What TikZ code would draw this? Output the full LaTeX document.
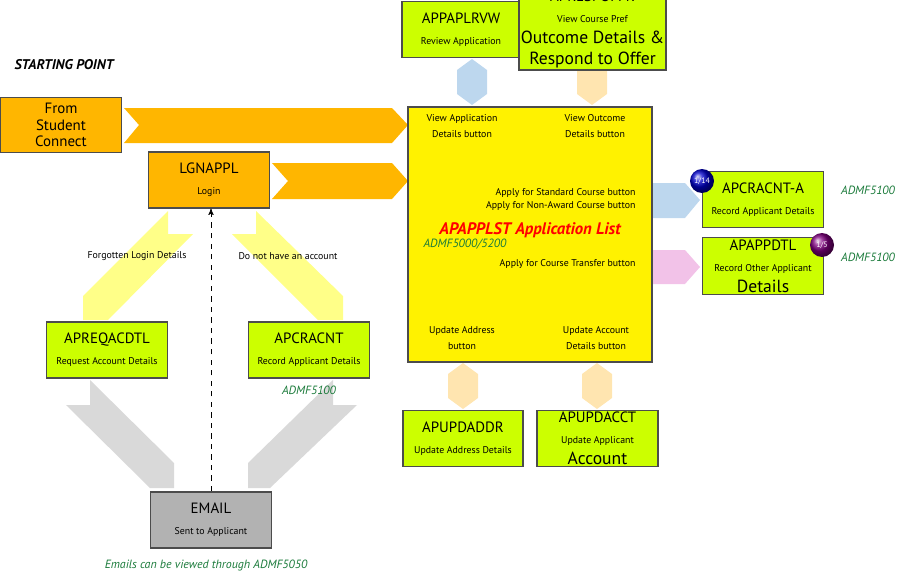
\documentclass[tikz,border=0pt]{standalone}
\usepackage{fontspec}
\setmainfont{PT Sans}
\usetikzlibrary{arrows, shapes, positioning}

\definecolor{orng}{HTML}{FFB600}
\definecolor{lime}{HTML}{CCFF00}
\definecolor{lyel}{HTML}{FFFF88}
\definecolor{lgry}{HTML}{D9D9D9}
\definecolor{lblu}{HTML}{BDD7EE}
\definecolor{lorg}{HTML}{FFE5B0}
\definecolor{lpnk}{HTML}{F2C2E8}
\definecolor{dgrn}{HTML}{1A7A3A}

\newcommand{\nmfont}{\fontsize{8.5}{9.5}\selectfont}
\newcommand{\dsfont}{\fontsize{5.6}{6.8}\selectfont}
\newcommand{\hexa}[3]{\fill[#3, shift={(#1,#2)}] (0,-23) -- (15,-12) -- (15,12) -- (0,23) -- (-15,12) -- (-15,-12) -- cycle;}

\begin{document}
\begin{tikzpicture}[x=0.02cm, y=-0.02cm,
  scr/.style={draw=black!70, fill=lime, align=center, inner sep=1pt, minimum width=2.42cm, minimum height=1.12cm},
  note/.style={text=dgrn, font=\fontsize{6.8}{8}\selectfont\itshape},
  btn/.style={font=\fontsize{5.6}{9.5}\selectfont, align=center},
  thick]
  \useasboundingbox (0,0) rectangle (900,575);

  % big arrows
  \fill[orng] (124,108) -- (392,108) -- (408,125) -- (392,143) -- (124,143) -- (139,125) -- cycle;
  \fill[orng] (272,163) -- (392,163) -- (408,181) -- (392,199) -- (272,199) -- (288,181) -- cycle;
  \fill[lyel] (83,320) -- (108,320) -- (193,234) -- (168,234) -- (168,211) -- (83,296) -- cycle;
  \fill[lyel] (343,320) -- (318,320) -- (232,234) -- (256,234) -- (256,211) -- (343,296) -- cycle;
  \fill[lgry] (90,380) -- (90,405) -- (66,405) -- (150,488) -- (174,488) -- (174,463) -- cycle;
  \fill[lgry] (333,380) -- (333,405) -- (357,405) -- (270,488) -- (248,488) -- (248,463) -- cycle;
  \fill[lblu] (652,183) -- (685,183) -- (700,200) -- (685,218) -- (652,218) -- cycle;
  \fill[lpnk] (652,250) -- (685,250) -- (700,267) -- (685,284) -- (652,284) -- cycle;
  \hexa{472}{82}{lblu}
  \hexa{592}{82}{lorg}
  \hexa{463}{386}{lorg}
  \hexa{597}{386}{lorg}

  \node[font=\fontsize{8}{9}\selectfont\bfseries\itshape] (start) at (64,65) {STARTING POINT};

  \node[scr, fill=orng, minimum height=1.1cm, font=\nmfont] (stud) at (61,125) {From\\Student\\Connect};
  \node[scr, fill=orng] (login) at (209,180) {\nmfont LGNAPPL\\\dsfont Login};
  \node[scr] (reqac) at (107,350) {\nmfont APREQACDTL\\\dsfont Request Account Details};
  \node[scr] (cracnt) at (309,350) {\nmfont APCRACNT\\\dsfont Record Applicant Details};
  \node[scr, fill=black!30] (email) at (211,520) {\nmfont EMAIL\\\dsfont Sent to Applicant};

  \node[draw=black!70, fill=yellow, minimum width=4.88cm, minimum height=5.1cm] (list) at (530,234.5) {};
  \node[scr, minimum width=2.36cm] (review) at (461,29.5) {\nmfont APPAPLRVW\\\dsfont Review Application};
  \node[scr, minimum width=2.38cm] (respond) at (592.5,29.5) {\nmfont APRESPOFFR\\\dsfont View Course Pref\\Outcome Details \&\\Respond to Offer};
  \node[scr] (cracnta) at (763,199.5) {\nmfont APCRACNT-A\\\dsfont Record Applicant Details};
  \node[scr] (appdtl) at (763,266) {\nmfont APAPPDTL\\\dsfont Record Other Applicant\\Details};
  \node[scr, minimum width=2.4cm] (upaddr) at (463,438.5) {\nmfont APUPDADDR\\\dsfont Update Address Details};
  \node[scr] (upacct) at (597.5,438.5) {\nmfont APUPDACCT\\\dsfont Update Applicant\\Account};

  % buttons inside the list
  \node[btn] (bview) at (462,126) {View Application\\Details button};
  \node[btn] (bout) at (595,126) {View Outcome\\Details button};
  \node[btn, anchor=east, align=right, font=\fontsize{5.6}{7.4}\selectfont] (bapply) at (642,199.5) {Apply for Standard Course button\\Apply for Non-Award Course button};
  \node[font=\fontsize{9.5}{11}\selectfont\bfseries\itshape, text=red] (title) at (530,230) {APAPPLST Application List};
  \node[note, anchor=west] (admf1) at (417,244) {ADMF5000/5200};
  \node[btn, anchor=east] (btrans) at (642,264) {Apply for Course Transfer button};
  \node[btn] (baddr) at (462,338) {Update Address\\button};
  \node[btn] (bacct) at (596,338) {Update Account\\Details button};

  \node[circle, ball color=blue!80!black, text=white, inner sep=0pt, minimum size=0.48cm, font=\fontsize{4.5}{5}\selectfont] (n14) at (702,181) {1/14};
  \node[circle, ball color=violet, text=white, inner sep=0pt, minimum size=0.48cm, font=\fontsize{4.5}{5}\selectfont] (n5) at (822,245) {1/5};

  \node[btn] (forgot) at (137,256) {Forgotten Login Details};
  \node[btn] (noacc) at (288,256) {Do not have an account};
  \node[note] (admf2) at (309,390) {ADMF5100};
  \node[note] (admf3) at (868,190) {ADMF5100};
  \node[note] (admf4) at (868,257) {ADMF5100};
  \node[note] (emnote) at (206,566) {Emails can be viewed through ADMF5050};

  \draw[->, >=stealth', thin, dashed] (email.north) -- (email.north |- login.south);
\end{tikzpicture}
\end{document}
